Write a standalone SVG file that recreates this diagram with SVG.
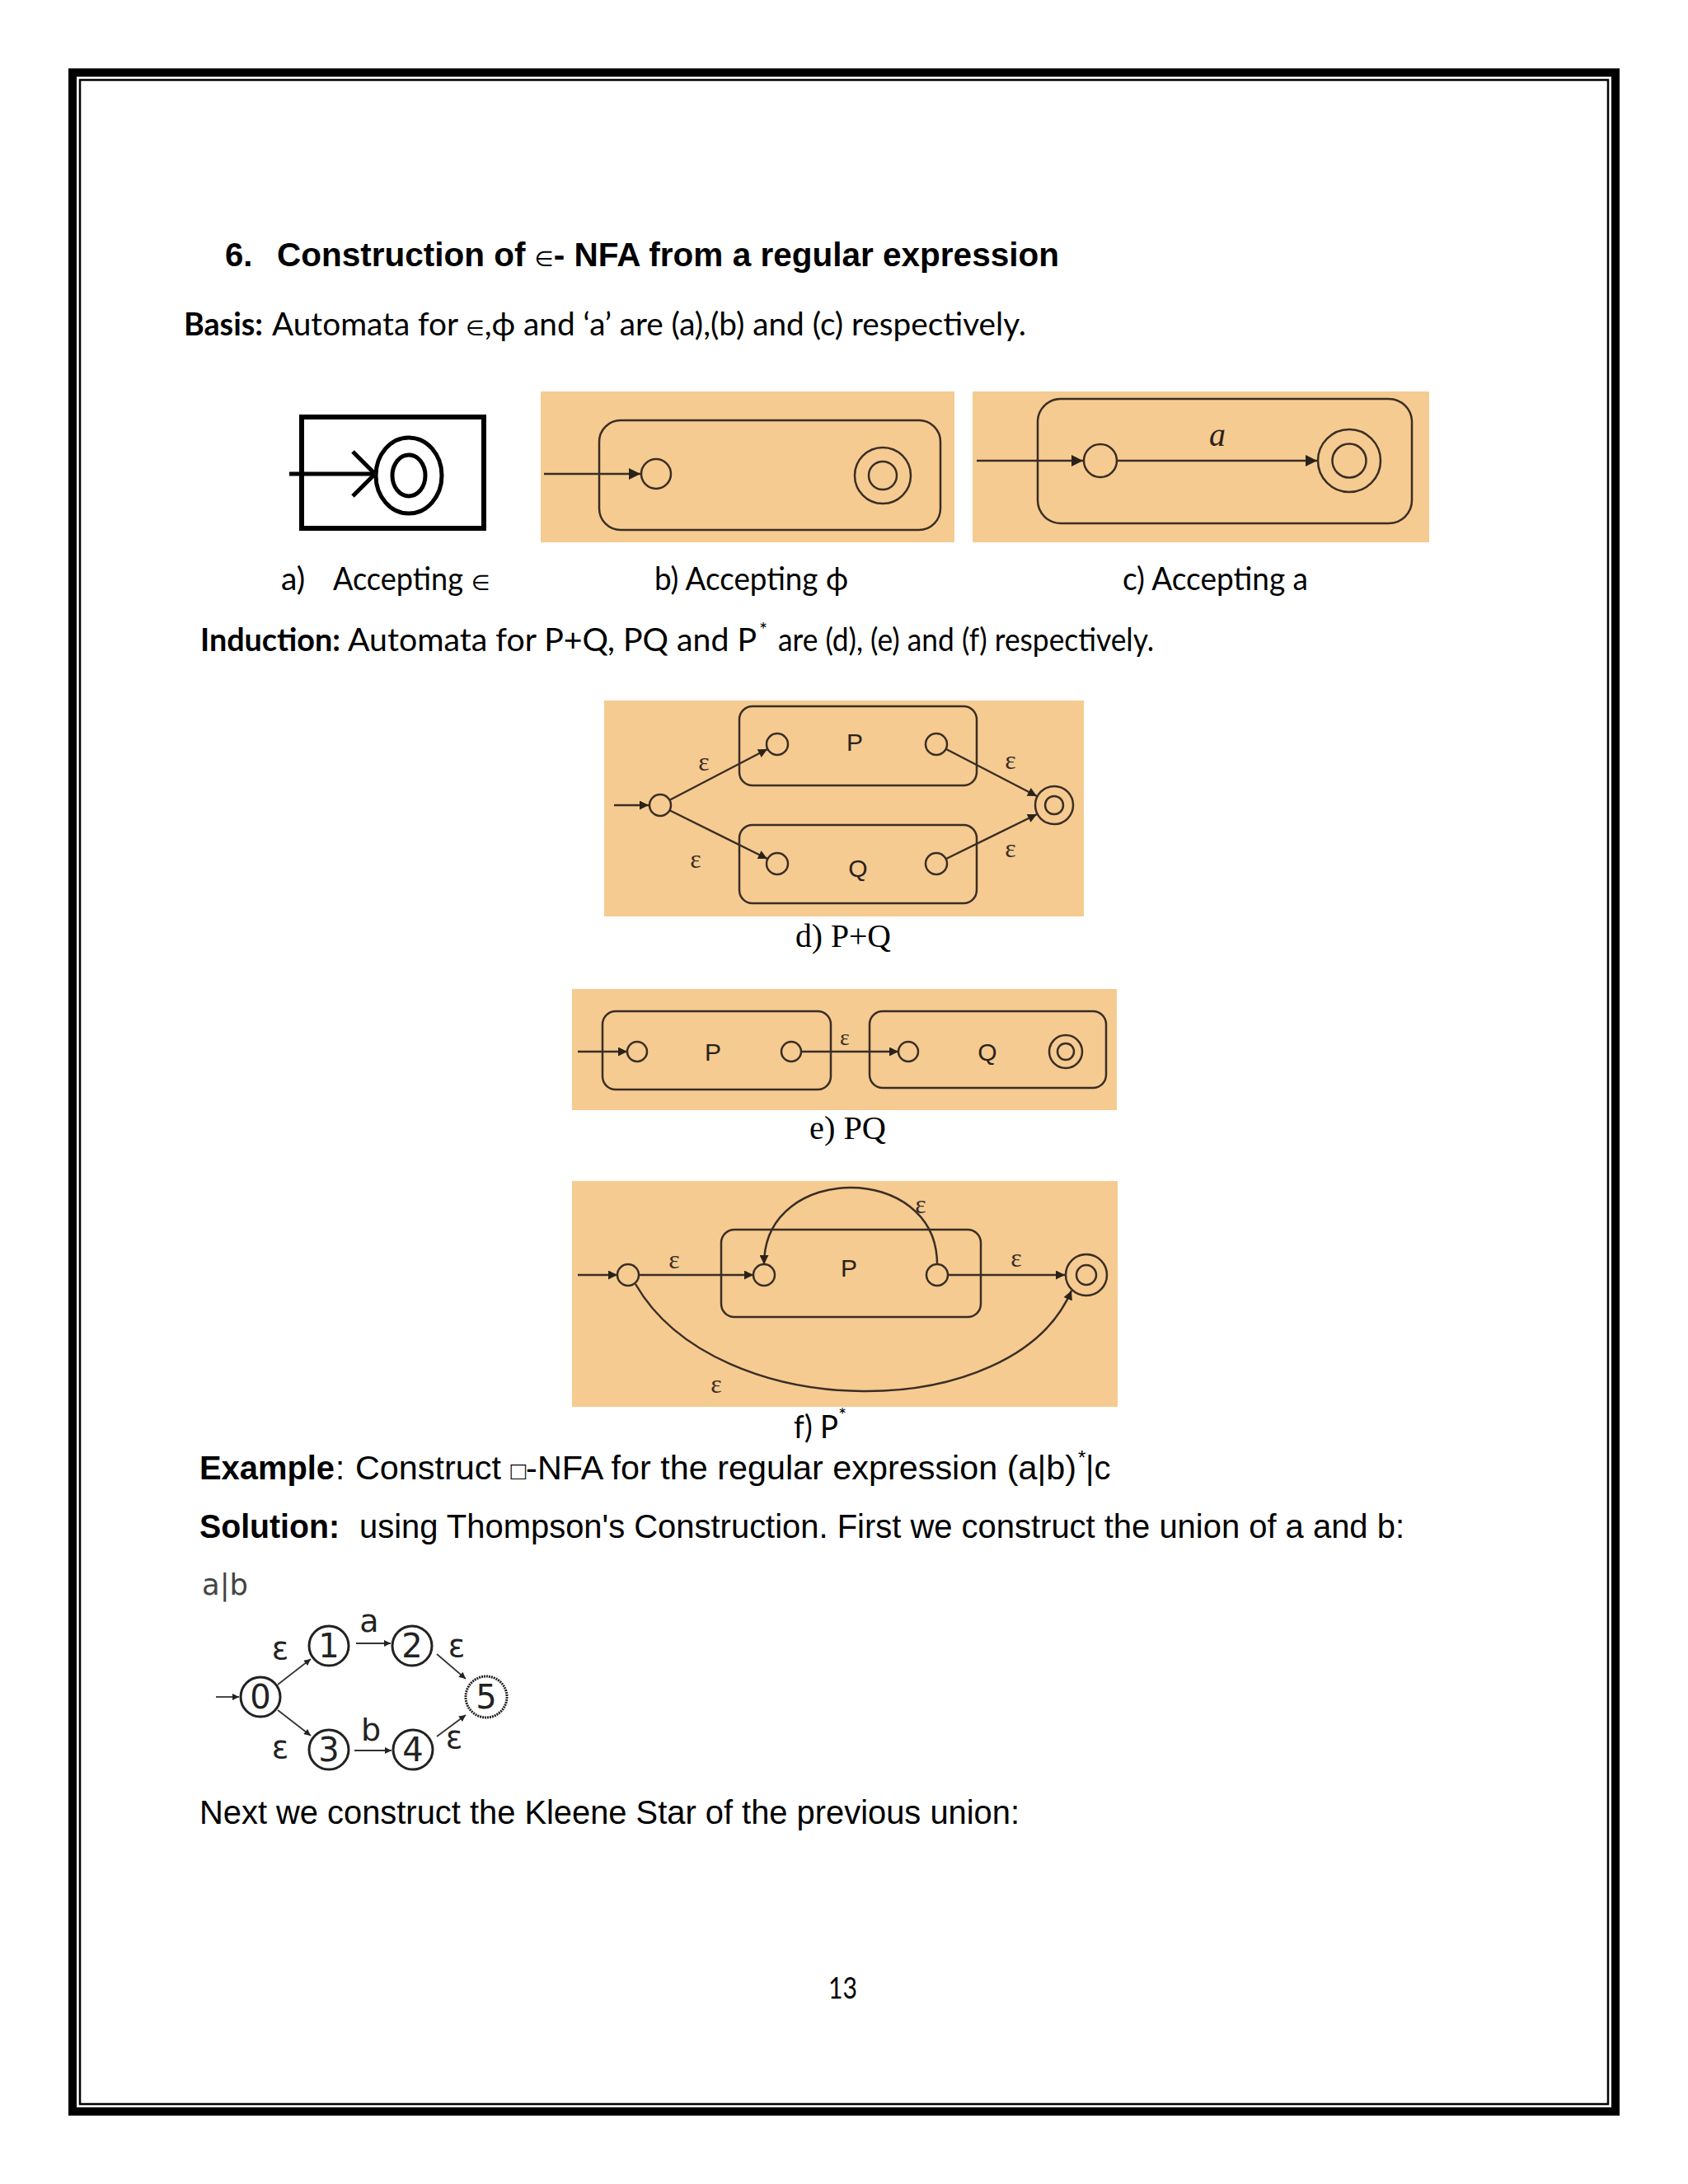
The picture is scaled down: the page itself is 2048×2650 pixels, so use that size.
<svg xmlns="http://www.w3.org/2000/svg" width="2048" height="2650" viewBox="0 0 2048 2650">
<defs>
<style>
.bg{fill:#F5CB91}
.box{fill:none;stroke:#3a2e24;stroke-width:2.5}
.ln{fill:none;stroke:#3a2e24;stroke-width:2.5}
.st{fill:none;stroke:#3a2e24;stroke-width:2.5}
.g{fill:none;stroke:#222;stroke-width:3}
.gl{fill:none;stroke:#333;stroke-width:1.8}
.h{font-family:"Liberation Sans",Arial,sans-serif;font-weight:bold;font-size:40px;fill:#000}
.ar{font-family:"Liberation Sans",Arial,sans-serif;font-size:40px;fill:#000}
.arb{font-family:"Liberation Sans",Arial,sans-serif;font-size:40px;font-weight:bold;fill:#000}
.cal{font-family:Lato,"Open Sans",sans-serif;font-size:39px;fill:#000}
.calb{font-family:Lato,"Open Sans",sans-serif;font-size:39px;font-weight:bold;fill:#000}
.tm{font-family:"Liberation Serif","Times New Roman",serif;font-size:40px;fill:#000}
.sym{font-family:"DejaVu Sans",sans-serif;font-size:26px}
.eps{font-family:"Liberation Serif","DejaVu Serif",serif;font-size:32px;fill:#3a2e24}
.lbl{font-family:"Liberation Sans",Arial,sans-serif;font-size:30px;fill:#2a221a}
.dj{font-family:"DejaVu Sans",sans-serif;font-size:40px;fill:#222}
.dje{font-family:"DejaVu Sans",sans-serif;font-size:38px;fill:#222}
</style>
<marker id="ah" viewBox="0 0 10 10" refX="10" refY="5" markerWidth="26" markerHeight="14" markerUnits="userSpaceOnUse" orient="auto"><path d="M0,0 L10,5 L0,10 z" fill="#2a221a"/></marker>
<marker id="as" viewBox="0 0 10 10" refX="10" refY="5" markerWidth="20" markerHeight="11" markerUnits="userSpaceOnUse" orient="auto"><path d="M0,0 L10,5 L0,10 z" fill="#2a221a"/></marker>
<marker id="at" viewBox="0 0 10 10" refX="10" refY="5" markerWidth="11" markerHeight="8" markerUnits="userSpaceOnUse" orient="auto"><path d="M0,0 L10,5 L0,10 z" fill="#222"/></marker>
</defs>
<rect width="2048" height="2650" fill="#fff"/>
<!-- page border -->
<g id="border">
<rect x="88" y="88" width="1872" height="2474" fill="none" stroke="#000" stroke-width="10"/>
<rect x="97" y="97" width="1854" height="2456" fill="none" stroke="#000" stroke-width="2.5"/>
</g>
<!-- texts -->
<g id="texts">
<text class="h" x="273" y="323">6.</text>
<text class="h" x="336" y="323" textLength="949" lengthAdjust="spacingAndGlyphs">Construction of <tspan class="sym" style="font-weight:normal">∈</tspan>- NFA from a regular expression</text>
<text class="calb" x="223" y="407" textLength="96" lengthAdjust="spacingAndGlyphs">Basis:</text>
<text class="cal" x="330" y="407" textLength="915" lengthAdjust="spacingAndGlyphs">Automata for <tspan class="sym">∈</tspan>,ϕ and ‘a’ are (a),(b) and (c) respectively.</text>
<text class="cal" x="341" y="716">a)</text>
<text class="cal" x="404" y="716" textLength="158" lengthAdjust="spacingAndGlyphs">Accepting</text>
<text class="sym" x="572" y="716">∈</text>
<text class="cal" x="794" y="716" textLength="235" lengthAdjust="spacingAndGlyphs">b) Accepting ϕ</text>
<text class="cal" x="1362" y="716" textLength="225" lengthAdjust="spacingAndGlyphs">c) Accepting a</text>
<text class="calb" x="243" y="790" textLength="170" lengthAdjust="spacingAndGlyphs">Induction:</text>
<text class="cal" x="422" y="790" textLength="496" lengthAdjust="spacingAndGlyphs">Automata for P+Q, PQ and P</text>
<text class="cal" x="921" y="772" style="font-size:24px">*</text>
<text class="cal" x="944" y="790" textLength="456" lengthAdjust="spacingAndGlyphs">are (d), (e) and (f) respectively.</text>
<text class="tm" x="965" y="1149" textLength="116" lengthAdjust="spacingAndGlyphs">d) P+Q</text>
<text class="tm" x="982" y="1382" textLength="93" lengthAdjust="spacingAndGlyphs">e) PQ</text>
<text class="cal" x="963" y="1745" textLength="54" lengthAdjust="spacingAndGlyphs">f) P</text>
<text class="cal" x="1017" y="1725" style="font-size:24px">*</text>
<text class="arb" x="242" y="1795" textLength="164" lengthAdjust="spacingAndGlyphs">Example</text>
<text class="ar" x="407" y="1795">:</text>
<text class="ar" x="431" y="1795" textLength="875" lengthAdjust="spacingAndGlyphs">Construct <tspan style="font-size:30px">□</tspan>-NFA for the regular expression (a|b)</text>
<text class="ar" x="1308" y="1777" style="font-size:24px">*</text>
<text class="ar" x="1317" y="1795">|c</text>
<text class="arb" x="242" y="1866" textLength="170" lengthAdjust="spacingAndGlyphs">Solution:</text>
<text class="ar" x="436" y="1866" textLength="1268" lengthAdjust="spacingAndGlyphs">using Thompson's Construction. First we construct the union of a and b:</text>
<text class="dj" x="245" y="1935" textLength="56" lengthAdjust="spacingAndGlyphs" style="fill:#444;font-size:36px">a|b</text>
<text class="ar" x="242" y="2213" textLength="995" lengthAdjust="spacingAndGlyphs">Next we construct the Kleene Star of the previous union:</text>
<text class="cal" x="1005" y="2425" style="font-size:36px" textLength="35" lengthAdjust="spacingAndGlyphs">13</text>
</g>
<!-- (a) accepting epsilon -->
<g id="fig-a">
<rect x="366" y="506" width="221" height="135" fill="#fff" stroke="#000" stroke-width="6"/>
<line x1="351" y1="575" x2="454" y2="575" stroke="#000" stroke-width="5"/>
<polyline points="428,548 455,575 428,602" fill="none" stroke="#000" stroke-width="5"/>
<ellipse cx="496" cy="577" rx="40" ry="46" fill="none" stroke="#000" stroke-width="5"/>
<ellipse cx="496" cy="577" rx="20" ry="25" fill="none" stroke="#000" stroke-width="5"/>
</g>
<!-- (b) accepting phi -->
<g id="fig-b">
<rect class="bg" x="656" y="475" width="502" height="183"/>
<rect class="box" x="727" y="510" width="414" height="133" rx="26"/>
<line class="ln" x1="660" y1="575" x2="777" y2="575" marker-end="url(#ah)"/>
<circle class="st" cx="796" cy="575" r="18"/>
<circle class="st" cx="1071" cy="577" r="34"/>
<circle class="st" cx="1071" cy="577" r="17"/>
</g>
<!-- (c) accepting a -->
<g id="fig-c">
<rect class="bg" x="1180" y="475" width="554" height="183"/>
<rect class="box" x="1259" y="484" width="454" height="151" rx="28"/>
<line class="ln" x1="1185" y1="559" x2="1314" y2="559" marker-end="url(#ah)"/>
<circle class="st" cx="1335" cy="559" r="20"/>
<line class="ln" x1="1355" y1="559" x2="1598" y2="559" marker-end="url(#ah)"/>
<circle class="st" cx="1637" cy="559" r="38"/>
<circle class="st" cx="1637" cy="559" r="20.5"/>
<text x="1477" y="541" text-anchor="middle" style="font-family:'Liberation Serif',serif;font-style:italic;font-size:40px;fill:#2a221a">a</text>
</g>
<!-- (d) P+Q -->
<g id="fig-d">
<rect class="bg" x="733" y="850" width="582" height="262"/>
<rect class="box" x="897" y="857" width="288" height="96" rx="16"/>
<rect class="box" x="897" y="1001" width="288" height="95" rx="16"/>
<line class="ln" x1="745" y1="977" x2="787" y2="977" marker-end="url(#as)"/>
<circle class="st" cx="801" cy="977" r="13"/>
<circle class="st" cx="943" cy="903" r="13"/>
<circle class="st" cx="1136" cy="903" r="13"/>
<circle class="st" cx="943" cy="1048" r="13"/>
<circle class="st" cx="1136" cy="1048" r="13"/>
<circle class="st" cx="1279" cy="977" r="23"/>
<circle class="st" cx="1279" cy="977" r="11"/>
<line class="ln" x1="812" y1="971" x2="931" y2="909" marker-end="url(#as)"/>
<line class="ln" x1="812" y1="983" x2="931" y2="1042" marker-end="url(#as)"/>
<line class="ln" x1="1148" y1="909" x2="1258" y2="966" marker-end="url(#as)"/>
<line class="ln" x1="1148" y1="1042" x2="1258" y2="988" marker-end="url(#as)"/>
<text class="lbl" x="1037" y="911" text-anchor="middle">P</text>
<text class="lbl" x="1041" y="1064" text-anchor="middle">Q</text>
<text class="eps" x="854" y="935" text-anchor="middle">ε</text>
<text class="eps" x="844" y="1053" text-anchor="middle">ε</text>
<text class="eps" x="1226" y="933" text-anchor="middle">ε</text>
<text class="eps" x="1226" y="1040" text-anchor="middle">ε</text>
</g>
<!-- (e) PQ -->
<g id="fig-e">
<rect class="bg" x="694" y="1200" width="661" height="147"/>
<rect class="box" x="731" y="1227" width="277" height="95" rx="16"/>
<rect class="box" x="1055" y="1227" width="287" height="93" rx="16"/>
<line class="ln" x1="701" y1="1276" x2="761" y2="1276" marker-end="url(#as)"/>
<circle class="st" cx="773" cy="1276" r="12"/>
<circle class="st" cx="960" cy="1276" r="12"/>
<line class="ln" x1="972" y1="1276" x2="1090" y2="1276" marker-end="url(#as)"/>
<circle class="st" cx="1102" cy="1276" r="12"/>
<circle class="st" cx="1293" cy="1276" r="20"/>
<circle class="st" cx="1293" cy="1276" r="10"/>
<text class="lbl" x="865" y="1287" text-anchor="middle">P</text>
<text class="lbl" x="1198" y="1287" text-anchor="middle">Q</text>
<text class="eps" x="1025" y="1268" text-anchor="middle" style="font-size:28px">ε</text>
</g>
<!-- (f) P* -->
<g id="fig-f">
<rect class="bg" x="694" y="1433" width="662" height="274"/>
<rect class="box" x="875" y="1492" width="315" height="106" rx="16"/>
<line class="ln" x1="701" y1="1547" x2="749" y2="1547" marker-end="url(#as)"/>
<circle class="st" cx="762" cy="1547" r="13"/>
<line class="ln" x1="775" y1="1547" x2="914" y2="1547" marker-end="url(#as)"/>
<circle class="st" cx="927" cy="1547" r="13"/>
<circle class="st" cx="1137" cy="1547" r="13"/>
<line class="ln" x1="1150" y1="1547" x2="1292" y2="1547" marker-end="url(#as)"/>
<circle class="st" cx="1318" cy="1547" r="25"/>
<circle class="st" cx="1318" cy="1547" r="12"/>
<path class="ln" d="M1137,1534 C1137,1410 927,1410 927,1534" marker-end="url(#as)"/>
<path class="ln" d="M771,1558 C870,1730 1230,1730 1300,1566" marker-end="url(#as)"/>
<text class="lbl" x="1030" y="1549" text-anchor="middle">P</text>
<text class="eps" x="818" y="1539" text-anchor="middle">ε</text>
<text class="eps" x="1233" y="1537" text-anchor="middle">ε</text>
<text class="eps" x="1117" y="1472" text-anchor="middle">ε</text>
<text class="eps" x="869" y="1690" text-anchor="middle">ε</text>
</g>
<!-- a|b NFA -->
<g id="nfa-ab">
<g id="s0"><circle class="g" cx="316" cy="2059" r="24"/><text class="dj" x="316" y="2073" text-anchor="middle">0</text></g>
<g id="s1"><circle class="g" cx="399" cy="1997" r="24"/><text class="dj" x="399" y="2011" text-anchor="middle">1</text></g>
<g id="s2"><circle class="g" cx="500" cy="1997" r="24"/><text class="dj" x="500" y="2011" text-anchor="middle">2</text></g>
<g id="s3"><circle class="g" cx="399" cy="2123" r="24"/><text class="dj" x="399" y="2137" text-anchor="middle">3</text></g>
<g id="s4"><circle class="g" cx="501" cy="2123" r="24"/><text class="dj" x="501" y="2137" text-anchor="middle">4</text></g>
<g id="s5"><circle class="g" cx="590" cy="2059" r="25" stroke-width="4.5" stroke-dasharray="2 1"/><text class="dj" x="590" y="2073" text-anchor="middle">5</text></g>
</g>
<g id="connectors-ab">
<line class="gl" x1="262" y1="2059" x2="290" y2="2059" marker-end="url(#at)"/>
<line class="gl" x1="337" y1="2044" x2="377" y2="2013" marker-end="url(#at)"/>
<line class="gl" x1="337" y1="2075" x2="377" y2="2106" marker-end="url(#at)"/>
<line class="gl" x1="432" y1="1994" x2="474" y2="1994" marker-end="url(#at)"/>
<line class="gl" x1="430" y1="2124" x2="475" y2="2124" marker-end="url(#at)"/>
<line class="gl" x1="530" y1="2007" x2="565" y2="2037" marker-end="url(#at)"/>
<line class="gl" x1="530" y1="2107" x2="565" y2="2081" marker-end="url(#at)"/>
<text class="dje" x="340" y="2013" text-anchor="middle">ε</text>
<text class="dje" x="448" y="1980" text-anchor="middle">a</text>
<text class="dje" x="554" y="2010" text-anchor="middle">ε</text>
<text class="dje" x="340" y="2133" text-anchor="middle">ε</text>
<text class="dje" x="450" y="2112" text-anchor="middle">b</text>
<text class="dje" x="551" y="2121" text-anchor="middle">ε</text>
</g>
</svg>
